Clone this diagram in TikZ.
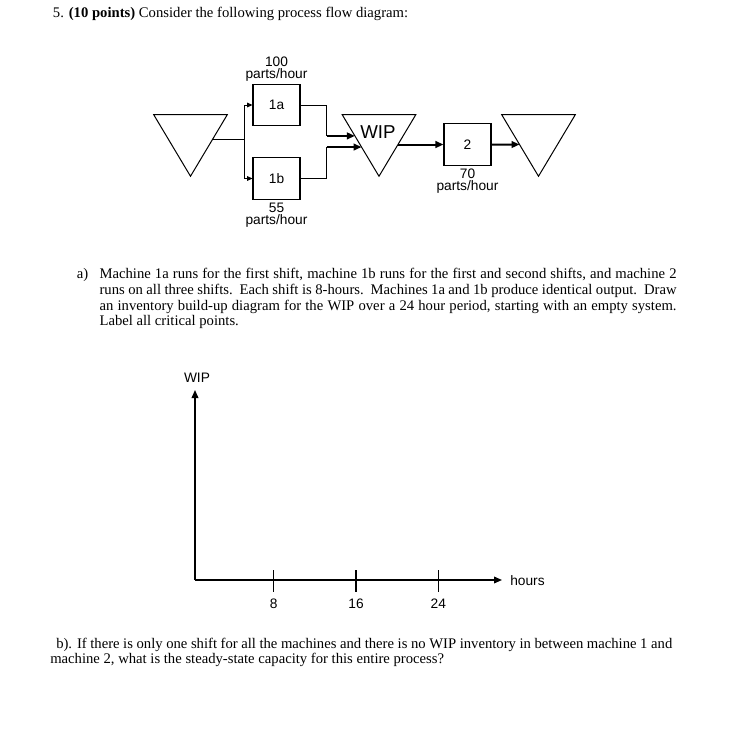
\documentclass[tikz,border=0pt]{standalone}
\usepackage{fontspec}
\setmainfont{Liberation Serif}
\setsansfont{Liberation Sans}
\usetikzlibrary{arrows.meta,positioning,calc}

\begin{document}
\begin{tikzpicture}[x=0.75pt,y=-0.75pt,node distance=2pt]
  \tikzstyle{machine}=[rectangle,draw,line width=0.8pt,minimum width=35.25pt,minimum height=31pt,inner sep=0pt,font=\sffamily\fontsize{10.3}{11}\selectfont]
  \tikzstyle{buffer}=[rectangle,minimum width=54.75pt,minimum height=45.75pt,inner sep=0pt]
  \tikzstyle{rate}=[align=center,inner sep=0pt,font=\sffamily\fontsize{10.3}{9}\selectfont]
  \tikzstyle{chartlabel}=[anchor=base,inner sep=0pt,font=\sffamily\fontsize{10.3}{11}\selectfont]
  \tikzstyle{feed}=[line width=0.75pt,-{Triangle[length=4pt,width=3.5pt]}]
  \tikzstyle{flow}=[line width=1.5pt,-{Triangle[length=6pt,width=5pt]}]
  \tikzstyle{axis}=[line width=1.1pt,-{Triangle[length=6pt,width=5pt]}]
  \tikzstyle{para}=[anchor=base west,inner sep=0pt,font=\fontsize{11}{12}\selectfont]

  \useasboundingbox (0,0) rectangle (730,736);

  % question text
  \node[para] (title) at (52.7,17) {5. \textbf{(10 points)} Consider the following process flow diagram:};

  % process flow diagram
  \node[buffer] (src) at (190.5,145.5) {};
  \node[machine] (m1a) at (276.5,105) {1a};
  \node[machine] (m1b) at (276.5,178.5) {1b};
  \node[buffer] (wip) at (379,145.5) {};
  \node[machine] (m2) at (467.5,144.5) {2};
  \node[buffer] (sink) at (538.5,145.5) {};
  \foreach \b in {src,wip,sink}
    \draw[line width=0.75pt] (\b.north west) -- (\b.north east) -- (\b.south) -- cycle;
  \node[anchor=base,inner sep=0pt,font=\sffamily\fontsize{14}{14}\selectfont] (wiptext) at (378,138.3) {WIP};

  \node[rate,above=1.5pt of m1a] (r1a) {100\\parts/hour};
  \node[rate,below=2pt of m1b] (r1b) {55\\parts/hour};
  \node[rate,below=2pt of m2] (r2) {70\\parts/hour};

  \coordinate (srcout) at ($(src.north east)!0.41!(src.south)$);
  \coordinate (split) at ([xshift=-6pt]m1a.west |- srcout);
  \coordinate (wipina) at ($(wip.north west)!0.344!(wip.south)$);
  \coordinate (wipinb) at ($(wip.north west)!0.525!(wip.south)$);
  \coordinate (joina) at ([xshift=19.5pt]m1a.east |- wipina);
  \coordinate (joinb) at ([xshift=19.5pt]m1b.east |- wipinb);
  \coordinate (wipout) at ($(wip.north east)!0.484!(wip.south)$);
  \coordinate (sinkin) at ($(sink.north west)!0.484!(sink.south)$);

  \draw[line width=0.75pt] (srcout) -- (split);
  \draw[feed] (split) |- (m1a.west);
  \draw[feed] (split) |- (m1b.west);
  \draw[line width=0.75pt] (m1a.east) -| (joina);
  \draw[line width=0.75pt] (m1b.east) -| (joinb);
  \draw[flow] (joina) -- (wipina);
  \draw[flow] (joinb) -- (wipinb);
  \draw[flow] (wipout) -- (wipout -| m2.west);
  \draw[flow] (m2.east) -- (sinkin);

  % part a
  \node[para] (qa) at (76.7,278) {a)};
  \node[para] (qa1) at (99.3,278) {\makebox[432.75pt][s]{Machine 1a runs for the first shift, machine 1b runs for the first and second shifts, and machine 2}};
  \node[para] (qa2) at (99.3,294) {\makebox[432.75pt][s]{runs on all three shifts.\ \ Each shift is 8-hours.\ \ Machines 1a and 1b produce identical output.\ \ Draw}};
  \node[para] (qa3) at (99.3,310) {\makebox[432.75pt][s]{an inventory build-up diagram for the WIP over a 24 hour period, starting with an empty system.}};
  \node[para] (qa4) at (99.3,325.5) {Label all critical points.};

  % inventory chart
  \coordinate (origin) at (195,580);
  \coordinate (ytop) at (195,390);
  \coordinate (xend) at (502,580);
  \draw[axis] (origin) -- (ytop);
  \draw[axis] (origin) -- (xend);
  \node[chartlabel] (ylab) at (197,382.7) {WIP};
  \node[chartlabel,anchor=base west] (xlab) at (510,585) {hours};
  \foreach \t/\x in {8/273.7,16/356,24/438.3} {
    \draw[line width=0.8pt] (\x,570) -- (\x,592);
    \node[chartlabel] (tick\t) at (\x,608) {\t};
  }

  % part b
  \node[para] (qb1) at (56,648) {\makebox[462pt][s]{b). If there is only one shift for all the machines and there is no WIP inventory in between machine 1 and}};
  \node[para] (qb2) at (50,663) {machine 2, what is the steady-state capacity for this entire process?};
\end{tikzpicture}
\end{document}
